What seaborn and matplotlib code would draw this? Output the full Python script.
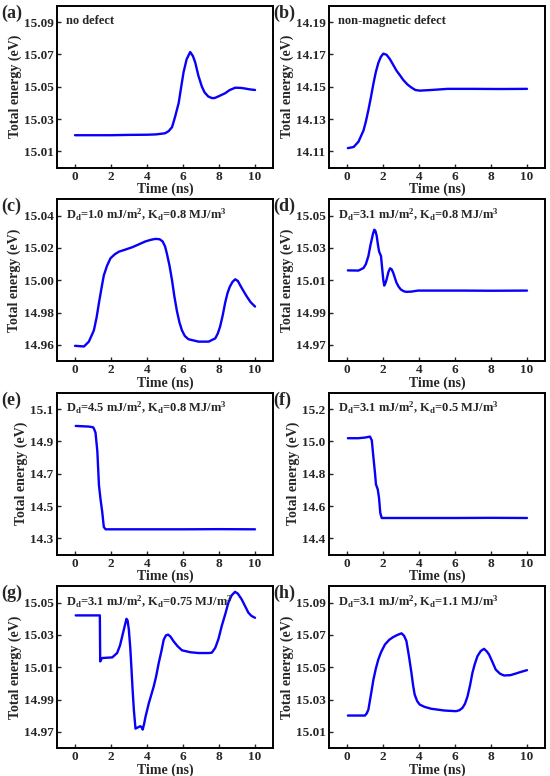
import numpy as np
import pandas as pd
import matplotlib
matplotlib.use("Agg")
import matplotlib.pyplot as plt
import seaborn as sns

# ---------------- data ----------------
time_a = [0, 1, 2, 3, 4, 4.5, 5.0, 5.2, 5.39, 5.55, 5.76, 5.9, 6.03, 6.2, 6.4, 6.55, 6.68, 6.85,
          7.05, 7.2, 7.4, 7.6, 7.75, 8.0, 8.34, 8.6, 8.9, 9.2, 9.45, 9.7, 10]
energy_a = [15.020, 15.020, 15.020, 15.0202, 15.0203, 15.0205, 15.0212, 15.0225, 15.025, 15.031,
            15.040, 15.050, 15.059, 15.067, 15.0715, 15.069, 15.065, 15.057, 15.050, 15.0465,
            15.044, 15.043, 15.043, 15.0442, 15.046, 15.048, 15.0494, 15.0493, 15.0489, 15.0484, 15.048]

time_b = [0.05, 0.37, 0.64, 0.92, 1.05, 1.19, 1.33, 1.47, 1.6, 1.74, 1.88, 2.02, 2.2, 2.39, 2.57,
          2.75, 2.95, 3.12, 3.35, 3.58, 3.8, 4.04, 4.68, 5.6, 7, 8.5, 10]
energy_b = [14.112, 14.1127, 14.116, 14.123, 14.1285, 14.1356, 14.1435, 14.152, 14.159, 14.1647,
            14.1685, 14.1705, 14.1698, 14.167, 14.1635, 14.160, 14.157, 14.1543, 14.1515, 14.1495,
            14.148, 14.1476, 14.148, 14.1487, 14.1487, 14.1486, 14.1487]

time_c = [0.0, 0.5, 0.77, 1.05, 1.2, 1.33, 1.47, 1.6, 1.78, 1.97, 2.2, 2.44, 2.8, 3.17, 3.5, 3.9,
          4.2, 4.46, 4.7, 4.87, 5.0, 5.1, 5.25, 5.39, 5.52, 5.66, 5.8, 5.94, 6.1, 6.3, 6.86,
          7.42, 7.79, 7.93, 8.06, 8.2, 8.34, 8.47, 8.6, 8.75, 8.9, 9.05, 9.17, 9.35, 9.54, 9.75, 10]
energy_c = [14.9594, 14.959, 14.962, 14.969, 14.977, 14.986, 14.995, 15.003, 15.009, 15.0136,
            15.016, 15.0177, 15.019, 15.0204, 15.022, 15.024, 15.025, 15.0256, 15.0254, 15.024,
            15.021, 15.0167, 15.009, 15.000, 14.990, 14.981, 14.974, 14.969, 14.9655, 14.9635,
            14.962, 14.962, 14.964, 14.967, 14.9713, 14.978, 14.986, 14.992, 14.996, 14.999,
            15.0006, 14.9995, 14.997, 14.9935, 14.990, 14.9865, 14.9837]

time_d = [0.05, 0.64, 0.92, 1.05, 1.19, 1.3, 1.38, 1.45, 1.52, 1.58, 1.65, 1.72, 1.78, 1.85, 1.89,
          1.96, 2.02, 2.07, 2.13, 2.2, 2.3, 2.39, 2.48, 2.57, 2.66, 2.75, 2.87, 2.99, 3.15, 3.3,
          3.6, 3.94, 5, 6.5, 8, 10]
energy_d = [15.0161, 15.016, 15.0176, 15.020, 15.025, 15.0315, 15.0355, 15.039, 15.0413, 15.0405,
            15.0375, 15.032, 15.028, 15.026, 15.025, 15.0167, 15.010, 15.0067, 15.008, 15.0105,
            15.015, 15.0174, 15.0168, 15.0146, 15.0115, 15.0085, 15.006, 15.0043, 15.0032, 15.0028,
            15.003, 15.0036, 15.0036, 15.0036, 15.0035, 15.0036]

time_e = [0.04, 0.77, 1.0, 1.05, 1.14, 1.24, 1.33, 1.42, 1.51, 1.6, 1.7, 2.5, 4, 6, 8, 10]
energy_e = [14.996, 14.992, 14.988, 14.98, 14.954, 14.84, 14.63, 14.54, 14.466, 14.37, 14.356,
            14.356, 14.356, 14.356, 14.357, 14.356]

time_f = [0.05, 0.64, 1.0, 1.28, 1.38, 1.47, 1.56, 1.61, 1.71, 1.78, 1.85, 1.93, 2.5, 4, 6, 8, 10]
energy_f = [15.020, 15.020, 15.024, 15.030, 15.006, 14.90, 14.80, 14.734, 14.703, 14.65, 14.557,
            14.526, 14.526, 14.526, 14.526, 14.527, 14.526]

time_g = [0.04, 0.7, 1.38, 1.40, 1.45, 1.51, 2.07, 2.34, 2.5, 2.62, 2.75, 2.86, 2.92, 2.99, 3.07,
          3.14, 3.2, 3.27, 3.36, 3.45, 3.54, 3.63, 3.7, 3.76, 3.84, 3.91, 4.1, 4.37, 4.5, 4.65,
          4.8, 4.93, 5.05, 5.17, 5.3, 5.48, 5.7, 5.94, 6.4, 6.86, 7.42, 7.6, 7.79, 7.97, 8.15,
          8.35, 8.52, 8.7, 8.89, 9.05, 9.26, 9.45, 9.63, 9.8, 10]
energy_g = [15.0421, 15.0421, 15.0421, 15.0136, 15.0148, 15.0157, 15.0161, 15.0188, 15.0235,
            15.029, 15.035, 15.040, 15.039, 15.0334, 15.022, 15.0084, 14.996, 14.9835, 14.972,
            14.9725, 14.973, 14.9735, 14.9728, 14.9714, 14.975, 14.979, 14.9877, 14.998, 15.004,
            15.0126, 15.020, 15.0271, 15.0297, 15.0302, 15.029, 15.026, 15.023, 15.0205, 15.0193,
            15.0188, 15.0188, 15.019, 15.022, 15.0275, 15.0355, 15.043, 15.050, 15.0545, 15.0567,
            15.0555, 15.052, 15.0478, 15.0438, 15.0418, 15.0406]

time_h = [0.05, 0.6, 1.0, 1.1, 1.19, 1.33, 1.47, 1.6, 1.74, 1.9, 2.11, 2.35, 2.57, 2.8, 3.03,
          3.17, 3.3, 3.44, 3.58, 3.67, 3.76, 3.9, 4.04, 4.3, 4.68, 5.41, 6.06, 6.25, 6.42, 6.56,
          6.7, 6.84, 6.97, 7.1, 7.25, 7.43, 7.61, 7.75, 7.89, 8.07, 8.26, 8.5, 8.72, 9.08,
          9.35, 9.63, 10]
energy_h = [15.0201, 15.0201, 15.0201, 15.0215, 15.0238, 15.033, 15.0424, 15.049, 15.0548,
            15.0595, 15.0641, 15.067, 15.0687, 15.070, 15.071, 15.0695, 15.0663, 15.057, 15.0466,
            15.039, 15.0331, 15.029, 15.0269, 15.0255, 15.0243, 15.0232, 15.0228, 15.0234,
            15.0249, 15.0275, 15.0321, 15.039, 15.0466, 15.052, 15.0569, 15.060, 15.0614, 15.060,
            15.0579, 15.0535, 15.0486, 15.046, 15.0449, 15.0451, 15.046, 15.047, 15.0482]

panel_letters = ["(a)", "(b)", "(c)", "(d)", "(e)", "(f)", "(g)", "(h)"]
panel_notes = [
    "no defect",
    "non-magnetic defect",
    r"D$_\mathrm{d}$=1.0 mJ/m$^\mathrm{2}$, K$_\mathrm{d}$=0.8 MJ/m$^\mathrm{3}$",
    r"D$_\mathrm{d}$=3.1 mJ/m$^\mathrm{2}$, K$_\mathrm{d}$=0.8 MJ/m$^\mathrm{3}$",
    r"D$_\mathrm{d}$=4.5 mJ/m$^\mathrm{2}$, K$_\mathrm{d}$=0.8 MJ/m$^\mathrm{3}$",
    r"D$_\mathrm{d}$=3.1 mJ/m$^\mathrm{2}$, K$_\mathrm{d}$=0.5 MJ/m$^\mathrm{3}$",
    r"D$_\mathrm{d}$=3.1 mJ/m$^\mathrm{2}$, K$_\mathrm{d}$=0.75 MJ/m$^\mathrm{3}$",
    r"D$_\mathrm{d}$=3.1 mJ/m$^\mathrm{2}$, K$_\mathrm{d}$=1.1 MJ/m$^\mathrm{3}$",
]
y_limits = [(15.00, 15.10), (14.10, 14.20), (14.95, 15.05), (14.96, 15.06),
            (14.2, 15.2), (14.3, 15.3), (14.96, 15.06), (15.00, 15.10)]
y_ticks = [
    [15.01, 15.03, 15.05, 15.07, 15.09],
    [14.11, 14.13, 14.15, 14.17, 14.19],
    [14.96, 14.98, 15.00, 15.02, 15.04],
    [14.97, 14.99, 15.01, 15.03, 15.05],
    [14.3, 14.5, 14.7, 14.9, 15.1],
    [14.4, 14.6, 14.8, 15.0, 15.2],
    [14.97, 14.99, 15.01, 15.03, 15.05],
    [15.01, 15.03, 15.05, 15.07, 15.09],
]
y_fmt = ["%.2f", "%.2f", "%.2f", "%.2f", "%.1f", "%.1f", "%.2f", "%.2f"]
x_ticks = [0, 2, 4, 6, 8, 10]

# ---------------- style ----------------
sns.set_theme(style="ticks")
plt.rcParams["font.family"] = ["Liberation Serif", "DejaVu Serif"]
plt.rcParams["font.weight"] = "bold"
plt.rcParams["axes.labelweight"] = "bold"
plt.rcParams["mathtext.fontset"] = "custom"
plt.rcParams["mathtext.rm"] = "Liberation Serif:bold"
plt.rcParams["mathtext.it"] = "Liberation Serif:bold"
plt.rcParams["mathtext.bf"] = "Liberation Serif:bold"

series = [(time_a, energy_a), (time_b, energy_b), (time_c, energy_c), (time_d, energy_d),
          (time_e, energy_e), (time_f, energy_f), (time_g, energy_g), (time_h, energy_h)]

fig, axes = plt.subplots(4, 2, figsize=(5.5, 7.76), dpi=100)
fig.subplots_adjust(left=57 / 550, right=545 / 550, top=1 - 6 / 776, bottom=1 - 748 / 776,
                    hspace=0.198, wspace=0.259)

for i, ax in enumerate(axes.flat):
    t, e = series[i]
    df = pd.DataFrame({"Time (ns)": t, "Total energy (eV)": e})
    sns.lineplot(data=df, x="Time (ns)", y="Total energy (eV)", ax=ax, color="#0800f8",
                 linewidth=1.7, sort=False, estimator=None)
    ax.set_xlim(-1, 11)
    ax.set_ylim(*y_limits[i])
    ax.set_xticks(x_ticks)
    ax.set_yticks(y_ticks[i])
    ax.set_yticklabels([y_fmt[i] % v for v in y_ticks[i]])
    ax.tick_params(direction="in", length=3, width=1.0, labelsize=9.5, pad=2.5)
    for lab in ax.get_xticklabels() + ax.get_yticklabels():
        lab.set_fontweight("bold")
    for sp in ax.spines.values():
        sp.set_linewidth(1.4)
        sp.set_color("black")
        sp.set_visible(True)
    ax.set_xlabel("Time (ns)", fontsize=10, fontweight="bold", labelpad=0)
    ax.set_ylabel("Total energy (eV)", fontsize=10, fontweight="bold", labelpad=1.5)
    ax.text(0.04, 0.905, panel_notes[i], transform=ax.transAxes, fontsize=9,
            fontweight="bold", ha="left", va="center")
    ax.text(-0.258, 0.955, panel_letters[i], transform=ax.transAxes, fontsize=13,
            fontweight="bold", ha="left", va="center")

fig.savefig("out.png", dpi=100)
